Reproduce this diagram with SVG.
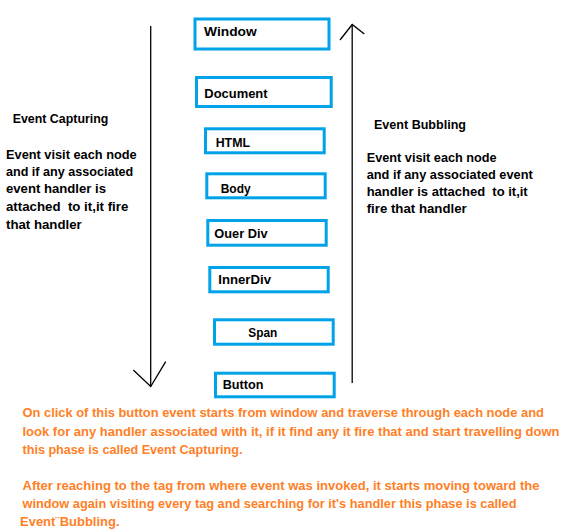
<svg xmlns="http://www.w3.org/2000/svg" width="584" height="531" viewBox="0 0 584 531">
<style>
.box{fill:#fff;stroke:#00A2E8;stroke-width:3}
.lbl{font-family:"Liberation Sans",Arial,sans-serif;font-weight:bold;font-size:13.5px;fill:#000}
.txt{font-family:"Liberation Sans",Arial,sans-serif;font-weight:bold;font-size:13px;fill:#000}
.hd{font-family:"Liberation Sans",Arial,sans-serif;font-weight:bold;font-size:12.5px;fill:#000}
.or{font-family:"Liberation Sans",Arial,sans-serif;font-weight:bold;font-size:12.5px;fill:#FF7F27}
.ln{fill:none;stroke:#000;stroke-width:1.3}
</style>
<rect width="584" height="531" fill="#fff"/>
<g id="connectors">
<path class="ln" d="M150.7,26 V386.5"/>
<path class="ln" d="M133.3,370 L150.7,386.5 L165.7,361.7"/>
<path class="ln" d="M352.2,383 V24.5"/>
<path class="ln" d="M340,40 L352.2,24.5 L364.3,34"/>
</g>
<g id="window"><rect class="box" x="195" y="19" width="134" height="30"/><text class="lbl" x="204" y="35.7" textLength="52.7" lengthAdjust="spacingAndGlyphs">Window</text></g>
<g id="document"><rect class="box" x="196.5" y="77.5" width="134.7" height="29"/><text class="lbl" x="204.3" y="97.7" textLength="63.3" lengthAdjust="spacingAndGlyphs">Document</text></g>
<g id="html"><rect class="box" x="205.5" y="128.8" width="118.7" height="24"/><text class="lbl" x="215.7" y="146.7" textLength="34.3" lengthAdjust="spacingAndGlyphs">HTML</text></g>
<g id="body"><rect class="box" x="206.8" y="173.8" width="118.4" height="24"/><text class="lbl" x="220.7" y="192.7" textLength="30" lengthAdjust="spacingAndGlyphs">Body</text></g>
<g id="ouerdiv"><rect class="box" x="207.8" y="220.5" width="118.4" height="24.7"/><text class="lbl" x="214.3" y="238.3" textLength="53.3" lengthAdjust="spacingAndGlyphs">Ouer Div</text></g>
<g id="innerdiv"><rect class="box" x="209.8" y="267.5" width="118.4" height="24.3"/><text class="lbl" x="218.3" y="284" textLength="52.7" lengthAdjust="spacingAndGlyphs">InnerDiv</text></g>
<g id="span"><rect class="box" x="214.5" y="319.8" width="118.7" height="24.4"/><text class="lbl" x="248.3" y="337.3" textLength="29" lengthAdjust="spacingAndGlyphs">Span</text></g>
<g id="button"><rect class="box" x="215.5" y="373.2" width="118.7" height="23.6"/><text class="lbl" x="222.7" y="389" textLength="40.7" lengthAdjust="spacingAndGlyphs">Button</text></g>
<g id="capturing-text">
<text class="hd" x="12.7" y="123.3" textLength="95.7" lengthAdjust="spacingAndGlyphs">Event Capturing</text>
<text class="txt" x="6" y="159" textLength="130.7" lengthAdjust="spacingAndGlyphs">Event visit each node</text>
<text class="txt" x="6" y="176" textLength="127.3" lengthAdjust="spacingAndGlyphs">and if any associated</text>
<text class="txt" x="6" y="193" textLength="100" lengthAdjust="spacingAndGlyphs">event handler is</text>
<text class="txt" x="6" y="211" textLength="122.3" lengthAdjust="spacingAndGlyphs" xml:space="preserve">attached  to it,it fire</text>
<text class="txt" x="6" y="229" textLength="75.7" lengthAdjust="spacingAndGlyphs">that handler</text>
</g>
<g id="bubbling-text">
<text class="hd" x="374" y="129" textLength="92" lengthAdjust="spacingAndGlyphs">Event Bubbling</text>
<text class="txt" x="366.7" y="162.3" textLength="130" lengthAdjust="spacingAndGlyphs">Event visit each node</text>
<text class="txt" x="366.7" y="179.3" textLength="166" lengthAdjust="spacingAndGlyphs">and if any associated event</text>
<text class="txt" x="366.7" y="196.3" textLength="161" lengthAdjust="spacingAndGlyphs" xml:space="preserve">handler is attached  to it,it</text>
<text class="txt" x="366.7" y="213.3" textLength="100" lengthAdjust="spacingAndGlyphs">fire that handler</text>
</g>
<g id="note">
<text class="or" x="22.5" y="417.3" textLength="521.4" lengthAdjust="spacingAndGlyphs">On click of this button event starts from window and traverse through each node and</text>
<text class="or" x="22.5" y="435.5" textLength="537" lengthAdjust="spacingAndGlyphs">look for any handler associated with it, if it find any it fire that and start travelling down</text>
<text class="or" x="22.5" y="453.5" textLength="220" lengthAdjust="spacingAndGlyphs">this phase is called Event Capturing.</text>
<text class="or" x="22.5" y="490" textLength="517" lengthAdjust="spacingAndGlyphs">After reaching to the tag from where event was invoked, it starts moving toward the</text>
<text class="or" x="22.5" y="508" textLength="494" lengthAdjust="spacingAndGlyphs">window again visiting every tag and searching for it's handler this phase is called</text>
<text class="or" x="20" y="525.7" textLength="99.5" lengthAdjust="spacingAndGlyphs">Event¨Bubbling.</text>
</g>
</svg>
